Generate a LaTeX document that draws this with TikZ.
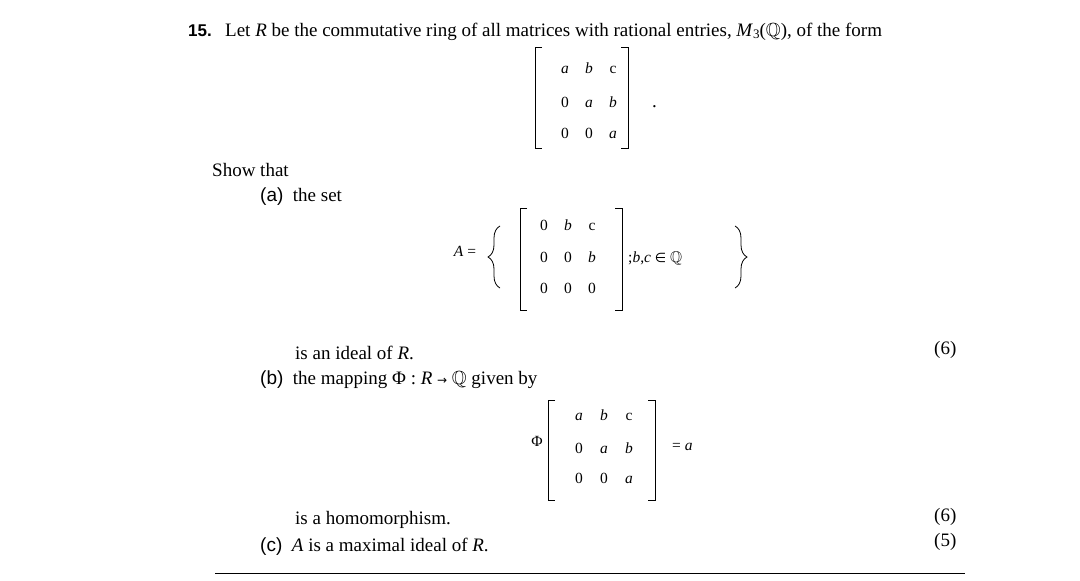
\documentclass[tikz,border=0pt]{standalone}
\usepackage{amssymb}
\usepackage{fontspec}
\setmainfont{Liberation Serif}
\newfontfamily\lab{Liberation Sans}
\newfontfamily\sym{DejaVu Sans}
\usetikzlibrary{decorations.pathreplacing}
\newcommand{\iv}[1]{\textit{#1}}
\begin{document}
\begin{tikzpicture}[x=1pt,y=-1pt,
  txt/.style={anchor=base west,inner sep=0pt,font=\fontsize{19}{21}\selectfont},
  ent/.style={anchor=base,inner sep=0pt,font=\fontsize{15.5}{17}\selectfont},
  brk/.style={line width=0.8pt},
  crl/.style={line width=0.8pt,decorate,decoration={brace,amplitude=12pt}}]
\useasboundingbox[fill=white] (0,0) rectangle (1080,581);
\node[txt,font=\lab\bfseries\fontsize{17}{20}\selectfont] (n15) at (188,36) {15.};
\node[txt] (l1) at (225,36) {Let \iv{R} be the commutative ring of all matrices with rational entries, \iv{M}\raisebox{-2pt}{\fontsize{13}{14}\selectfont 3}($\mathbb{Q}$), of the form};
% matrix 1
\draw[brk] (542,47) -- (535,47) -- (535,148) -- (542,148);
\draw[brk] (621,47) -- (628,47) -- (628,148) -- (621,148);
\foreach \r/\y in {{{\iv{a}},{\iv{b}},{c}}/73,{{0},{\iv{a}},{\iv{b}}}/107,{{0},{0},{\iv{a}}}/138}{
  \foreach \e [count=\i] in \r { \node[ent] at (541+24*\i,\y) {\e}; } }
\node[txt] (dot) at (652,107) {.};
\node[txt] (show) at (212,176) {Show that};
\node[txt] (a) at (260,201) {{\lab(a)}\ \ the set};
% set A
\node[ent] (Aeq) at (465,256) {\iv{A} =};
\coordinate (lbt) at (500,226);
\coordinate (lbb) at (500,288);
\draw[crl] (lbb) -- (lbt);
\draw[brk] (527,208) -- (520,208) -- (520,310) -- (527,310);
\draw[brk] (615,208) -- (622,208) -- (622,310) -- (615,310);
\foreach \r/\y in {{{0},{\iv{b}},{c}}/230,{{0},{0},{\iv{b}}}/262,{{0},{0},{0}}/293}{
  \foreach \e [count=\i] in \r { \node[ent] at (520+24*\i,\y) {\e}; } }
\node[ent,anchor=base west] (cond) at (628,262) {;\iv{b},\iv{c} {\sym\fontsize{13}{14}\selectfont ∈} $\mathbb{Q}$};
\coordinate (rbt) at (735,226);
\coordinate (rbb) at (735,288);
\draw[crl] (rbt) -- (rbb);
\node[txt] (ideal) at (295,359) {is an ideal of \iv{R}.};
\node[txt] (m1) at (934,354) {(6)};
\node[txt] (b) at (260,384) {{\lab(b)}\ \ the mapping Φ : \iv{R} {\sym\fontsize{12}{14}\selectfont →} $\mathbb{Q}$ given by};
% matrix Phi
\node[ent] (phi) at (537,446) {Φ};
\draw[brk] (555,400) -- (548,400) -- (548,500) -- (555,500);
\draw[brk] (648,400) -- (655,400) -- (655,500) -- (648,500);
\foreach \r/\y in {{{\iv{a}},{\iv{b}},{c}}/420,{{0},{\iv{a}},{\iv{b}}}/453,{{0},{0},{\iv{a}}}/483}{
  \foreach \e [count=\i] in \r { \node[ent] at (554+25*\i,\y) {\e}; } }
\node[ent,anchor=base west] (eqa) at (672,450) {= \iv{a}};
\node[txt] (hom) at (295,524) {is a homomorphism.};
\node[txt] (m2) at (934,521) {(6)};
\node[txt] (m3) at (934,546) {(5)};
\node[txt] (c) at (260,551) {{\lab(c)}\ \ \iv{A} is a maximal ideal of \iv{R}.};
\draw[line width=0.8pt] (215,573) -- (965,573);
\end{tikzpicture}
\end{document}
